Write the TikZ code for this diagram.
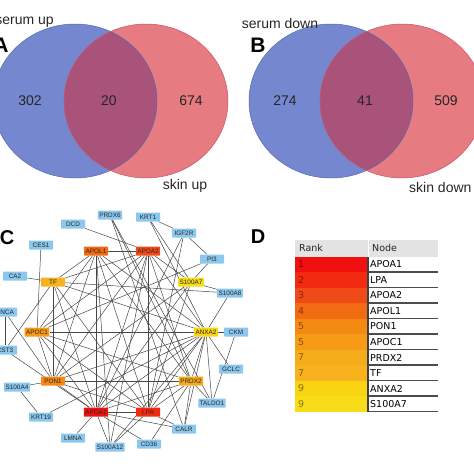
\documentclass[tikz,border=0pt]{standalone}
\usepackage{fontspec}
\setmainfont{Liberation Sans}
\newfontfamily\tabfont{DejaVu Sans}
\usetikzlibrary{backgrounds}
\definecolor{vblue}{HTML}{7587CF}
\definecolor{vred}{HTML}{E67C82}
\definecolor{vmix}{HTML}{A9537B}
\definecolor{vblueline}{HTML}{5566AA}
\definecolor{vredline}{HTML}{C2566A}
\definecolor{nblue}{HTML}{8CC8EE}
\definecolor{rA}{HTML}{F01010}
\definecolor{rB}{HTML}{F22A12}
\definecolor{rC}{HTML}{F04A18}
\definecolor{rD}{HTML}{F26A12}
\definecolor{rE}{HTML}{F58A12}
\definecolor{rF}{HTML}{F79A15}
\definecolor{rG}{HTML}{F6AC1A}
\definecolor{rH}{HTML}{F7B21E}
\definecolor{rI}{HTML}{F8D412}
\definecolor{rJ}{HTML}{F8DC18}
\tikzset{
  gene/.style={rectangle, rounded corners=0.6pt, minimum width=24pt, minimum height=9pt, inner sep=1.5pt, font=\fontsize{6.4}{7}\selectfont, text=black!85},
  bn/.style={gene, fill=nblue},
  edge/.style={draw=black!72, line width=0.5pt},
  vnum/.style={font=\fontsize{14}{16}\selectfont, text=black!85},
  vlab/.style={font=\fontsize{14}{16}\selectfont, text=black!85, inner sep=0pt},
  plab/.style={font=\fontsize{21}{24}\bfseries\selectfont, inner sep=0pt},
  tabtxt/.style={font=\tabfont\fontsize{9.5}{11}\selectfont, inner sep=0pt, anchor=west}
}
\begin{document}
\begin{tikzpicture}[x=1pt,y=-1pt]
\useasboundingbox (0,0) rectangle (474,474);
% ---------- Venn A ----------
\fill[vblue] (75,101) ellipse [x radius=82pt, y radius=77pt];
\fill[vred] (146,101) ellipse [x radius=82pt, y radius=77pt];
\begin{scope}
  \clip (75,101) ellipse [x radius=82pt, y radius=77pt];
  \fill[vmix] (146,101) ellipse [x radius=82pt, y radius=77pt];
\end{scope}
\draw[vblueline, line width=0.5pt] (75,101) ellipse [x radius=82pt, y radius=77pt];
\draw[vredline, line width=0.5pt] (146,101) ellipse [x radius=82pt, y radius=77pt];
\node[vnum] (a1) at (30,101) {302};
\node[vnum] (a2) at (109,101) {20};
\node[vnum] (a3) at (191,101) {674};
\node[vlab, anchor=east] (al1) at (54,22) {serum up};
\node[vlab] (al2) at (185,186) {skin up};
\node[plab] (pA) at (1,45) {A};
% ---------- Venn B ----------
\fill[vblue] (331,101) ellipse [x radius=82pt, y radius=77pt];
\fill[vred] (402,101) ellipse [x radius=82pt, y radius=77pt];
\begin{scope}
  \clip (331,101) ellipse [x radius=82pt, y radius=77pt];
  \fill[vmix] (402,101) ellipse [x radius=82pt, y radius=77pt];
\end{scope}
\draw[vblueline, line width=0.5pt] (331,101) ellipse [x radius=82pt, y radius=77pt];
\draw[vredline, line width=0.5pt] (402,101) ellipse [x radius=82pt, y radius=77pt];
\node[vnum] (b1) at (285,101) {274};
\node[vnum] (b2) at (365,101) {41};
\node[vnum] (b3) at (446,101) {509};
\node[vlab] (bl1) at (280,23) {serum down};
\node[vlab, anchor=west] (bl2) at (409,187) {skin down};
\node[plab] (pB) at (258,45) {B};
% ---------- Network C ----------
\node[plab, font=\fontsize{20}{24}\bfseries\selectfont] (pC) at (7,238) {C};
\node[bn] (PRDX6) at (110,215) {PRDX6};
\node[bn] (KRT1) at (148,217) {KRT1};
\node[bn] (DCD) at (73,224) {DCD};
\node[bn] (IGF2R) at (184,233) {IGF2R};
\node[bn] (CES1) at (41,245) {CES1};
\node[gene, fill=rD] (APOL1) at (96,251) {APOL1};
\node[gene, fill=rC] (APOA2) at (148,251) {APOA2};
\node[bn] (PI3) at (212,259) {PI3};
\node[bn] (CA2) at (15,276) {CA2};
\node[gene, fill=rH] (TF) at (53,282) {TF};
\node[gene, fill=rJ] (S100A7) at (191,282) {S100A7};
\node[bn] (S100A8) at (230,293) {S100A8};
\node[bn] (SNCA) at (5,312) {SNCA};
\node[gene, fill=rF] (APOC1) at (37,332) {APOC1};
\node[gene, fill=rI] (ANXA2) at (206,332) {ANXA2};
\node[bn] (CKM) at (236,332) {CKM};
\node[bn] (CST3) at (5,350) {CST3};
\node[bn] (GCLC) at (231,369) {GCLC};
\node[gene, fill=rE] (PON1) at (53,381) {PON1};
\node[gene, fill=rG] (PRDX2) at (191,381) {PRDX2};
\node[bn] (S100A4) at (17,387) {S100A4};
\node[bn] (TALDO1) at (212,403) {TALDO1};
\node[gene, fill=rA] (APOA1) at (96,412) {APOA1};
\node[gene, fill=rB] (LPA) at (148,412) {LPA};
\node[bn] (KRT19) at (41,417) {KRT19};
\node[bn] (CALR) at (184,429) {CALR};
\node[bn] (LMNA) at (73,438) {LMNA};
\node[bn] (CD36) at (149,444) {CD36};
\node[bn] (S100A12) at (110,447) {S100A12};
\begin{pgfonlayer}{background}
\foreach \a/\b in {
  APOA1/LPA, APOA1/APOA2, APOA1/APOL1, APOA1/PON1, APOA1/APOC1, APOA1/TF,
  APOA1/ANXA2, APOA1/PRDX2, APOA1/S100A7, LPA/APOA2, LPA/APOL1, LPA/PON1,
  LPA/APOC1, LPA/TF, LPA/ANXA2, LPA/S100A7, APOA2/APOL1, APOA2/PON1,
  APOA2/APOC1, APOA2/TF, APOA2/ANXA2, APOA2/S100A7, APOL1/PON1, APOL1/APOC1,
  APOL1/TF, APOL1/ANXA2, PON1/APOC1, PON1/ANXA2, APOC1/ANXA2, PRDX2/ANXA2,
  PRDX2/PON1, PRDX2/APOC1, LPA/PRDX2, APOA2/PRDX2, TF/ANXA2, PON1/S100A7,
  DCD/APOA2, PRDX6/PRDX2, PRDX6/CALR, PRDX6/TALDO1, KRT1/IGF2R, KRT1/S100A7,
  KRT1/ANXA2, IGF2R/PI3, IGF2R/LPA, IGF2R/APOA1, PI3/S100A7, PI3/APOC1,
  S100A7/S100A8, TF/S100A8, S100A8/ANXA2, CES1/APOC1, CA2/TF, SNCA/CST3,
  SNCA/PON1, CST3/TF, CST3/APOA1, S100A4/PON1, S100A4/KRT19, KRT19/ANXA2,
  APOA1/LMNA, APOA1/CALR, APOA1/CD36, S100A12/APOA1, S100A12/LPA,
  S100A12/APOA2, S100A12/APOL1, S100A12/ANXA2, LPA/CALR, CD36/PRDX2,
  PRDX2/CALR, ANXA2/CALR, PRDX2/TALDO1, ANXA2/TALDO1, ANXA2/GCLC,
  CKM/TALDO1, ANXA2/CKM, TF/PON1, APOL1/PRDX2}
  \draw[edge] (\a) -- (\b);
\end{pgfonlayer}
% ---------- Table D ----------
\node[plab, font=\fontsize{20}{24}\bfseries\selectfont] (pD) at (258,237) {D};
\fill[black!11] (295,240) rectangle (438,256.5);
\draw[white, line width=0.8pt] (368,240) -- (368,256.5);
\node[tabtxt, text=black!85] (hR) at (299,248) {Rank};
\node[tabtxt, text=black!85] (hN) at (372,248) {Node};
\foreach \i/\r/\n/\c in {0/1/APOA1/rA, 1/2/LPA/rB, 2/3/APOA2/rC, 3/4/APOL1/rD,
  4/5/PON1/rE, 5/5/APOC1/rF, 6/7/PRDX2/rG, 7/7/TF/rH, 8/9/ANXA2/rI, 9/9/S100A7/rJ} {
  \pgfmathsetmacro{\yt}{256.5+15.5*\i}
  \pgfmathsetmacro{\yb}{\yt+15.5}
  \pgfmathsetmacro{\ym}{\yt+8}
  \fill[\c] (295,\yt) rectangle (368,\yb);
  \node[tabtxt, text=\c!55!black] at (298,\ym) {\r};
  \node[tabtxt, text=black] at (370,\ym) {\n};
  \draw[black!70, line width=1.2pt] (368,\yb) -- (438,\yb);
}
\draw[black!75, line width=1.3pt] (368,256.5) -- (368,411.5);
\end{tikzpicture}
\end{document}
